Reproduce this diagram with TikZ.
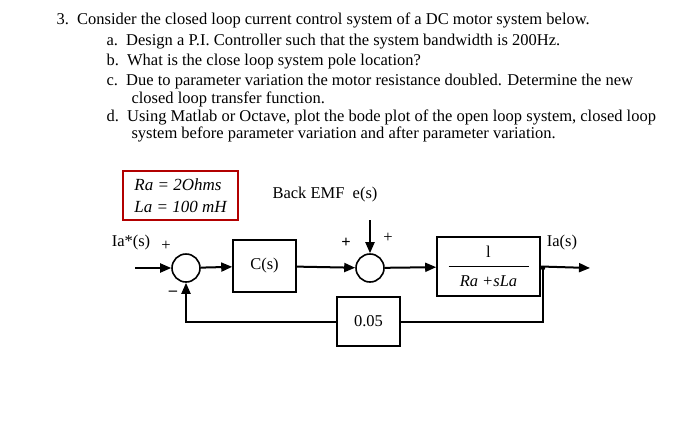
\documentclass[tikz,border=0pt]{standalone}
\usepackage{fontspec}
\setmainfont{Liberation Serif}
\usetikzlibrary{arrows.meta}
\begin{document}
\begin{tikzpicture}[x=1pt,y=-1pt, font=\fontsize{16.5}{19}\selectfont,
    blk/.style={draw, line width=1.6pt, minimum width=63pt, minimum height=52pt},
    sum/.style={draw, line width=1.6pt, circle, minimum size=28pt, inner sep=0pt},
    sig/.style={-{Triangle[length=11pt,width=9pt]}, line width=2pt}]
    \useasboundingbox (0,0) rectangle (700,421);
    % Question text
    \node[anchor=west] (q) at (53,20) {3.\ \ Consider the closed loop current control system of a DC motor system below.};
    \node[anchor=west] (qa) at (103,42) {a.\ \ Design a P.I. Controller such that the system bandwidth is 200Hz.};
    \node[anchor=west] (qb) at (103,62) {b.\ \ What is the close loop system pole location?};
    \node[anchor=west] (qc) at (103,82) {c.\ \ Due to parameter variation the motor resistance doubled. Determine the new};
    \node[anchor=west] (qc2) at (128,99) {closed loop transfer function.};
    \node[anchor=west] (qd) at (103,117) {d.\ \ Using Matlab or Octave, plot the bode plot of the open loop system, closed loop};
    \node[anchor=west] (qd2) at (128,134) {system before parameter variation and after parameter variation.};

    % Parameter box
    \node[draw=red!70!black, line width=1.3pt, minimum width=115pt, minimum height=49pt, align=left, inner sep=0pt,
          font=\fontsize{17}{22}\selectfont\itshape] (par) at (180.5,195.5) {Ra = 2Ohms\\La = 100 mH};
    \node (emf) at (325,195) {Back EMF\ \ e(s)};

    % Blocks
    \node[sum] (s1) at (186,268) {};
    \node[blk] (cs) at (264.5,266) {C(s)};
    \node[sum] (s2) at (370,268) {};
    \node[blk, minimum width=103pt, minimum height=59pt] (plant) at (488.5,266.5) {};
    \node (num) at (488.5,252) {l};
    \node (den) at (488.5,281) {\itshape Ra +sLa};
    \draw[line width=1pt] (plant.center) ++(-40,0) -- ++(80,0);
    \node[blk, minimum height=49pt] (fb) at (368.5,321.5) {0.05};
    \coordinate (in) at (135,268);
    \coordinate (out) at (590,268);
    \coordinate (br) at (543,268);
    \coordinate (top) at (370,220);

    % Signals
    \draw[sig] (in) -- (s1);
    \draw[sig] (s1) -- (cs);
    \draw[sig] (cs) -- (s2);
    \draw[sig] (top) -- (s2);
    \draw[sig] (s2) -- (plant);
    \draw[sig] (plant.east) -- (out);
    \fill (br) circle (2.2pt);
    \draw[line width=2pt] (br) |- (fb.east);
    \draw[sig] (fb.west) -| (s1);

    % Labels
    \node (lin) at (131,243) {Ia*(s)};
    \node (lout) at (562,243) {Ia(s)};
    \node (p1) at (166,246) {+};
    \node (m1) at (173,293) {\textbf{--}};
    \node (p2) at (346,243) {\textbf{+}};
    \node (p3) at (388,238) {+};
\end{tikzpicture}
\end{document}
